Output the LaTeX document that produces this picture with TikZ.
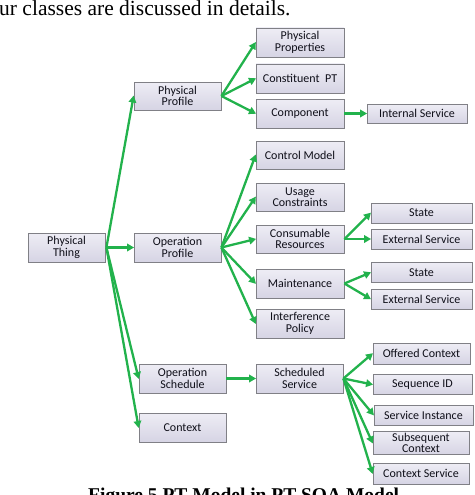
\documentclass[tikz,border=0pt]{standalone}
\usepackage{fontspec}
\setmainfont{Liberation Serif}
\newfontfamily\boxfont{Carlito}
\usetikzlibrary{arrows.meta}
\definecolor{arrgreen}{RGB}{34,178,76}
\definecolor{boxtop}{RGB}{238,237,245}
\definecolor{boxbot}{RGB}{214,212,228}
\definecolor{boxline}{RGB}{128,128,134}
\definecolor{boxtext}{RGB}{15,15,25}
\tikzset{
  box/.style={draw=boxline, line width=0.8pt, top color=boxtop, bottom color=boxbot,
    align=center, inner sep=0.5pt, text=boxtext, font=\boxfont\fontsize{12}{11.6}\selectfont},
  conn/.style={draw=arrgreen, line width=2.3pt,
    -{Triangle[length=7pt,width=7.5pt]}, shorten >=-0.5pt},
}
\newcommand{\bx}[6]{\node[box, minimum width=#4pt, minimum height=#5pt] (#1) at (#2,#3) {#6};}
\begin{document}
\begin{tikzpicture}[x=1pt,y=-1pt]
\useasboundingbox (0,0) rectangle (474,495);
\clip (0,0) rectangle (474,495);
\node[anchor=base west, inner sep=0pt, font=\fontsize{21.5}{21.5}\selectfont] (toptext) at (-1,16) {ur classes are discussed in details.};
\node[anchor=base west, inner sep=0pt, font=\bfseries\fontsize{19.5}{19.5}\selectfont] (caption) at (88,501) {Figure 5 PT Model in PT-SOA Model};

\bx{pthing}{66.5}{247.5}{77}{29}{Physical\\Thing}
\bx{pprof}{177.5}{96}{87}{28}{Physical\\Profile}
\bx{oprof}{177.5}{247.5}{87}{29}{Operation\\Profile}
\bx{osched}{182.5}{378.5}{87}{29}{Operation\\Schedule}
\bx{context}{182.5}{427.5}{87}{29}{Context}

\bx{pprops}{300}{42.5}{88}{29}{Physical\\Properties}
\bx{constpt}{300}{78.5}{88}{29}{Constituent~ PT}
\bx{component}{300}{113.5}{88}{29}{Component}
\bx{intserv}{417}{113.5}{100}{19}{Internal Service}
\bx{ctrl}{300}{155}{88}{28}{Control Model}
\bx{usage}{300}{197}{88}{28}{Usage\\Constraints}
\bx{consum}{300}{239}{88}{28}{Consumable\\Resources}
\bx{stateA}{421.5}{213}{101}{20}{State}
\bx{extA}{421.5}{239}{101}{20}{External Service}
\bx{maint}{300}{283.5}{88}{29}{Maintenance}
\bx{stateB}{421.5}{272.5}{101}{20}{State}
\bx{extB}{421.5}{299}{101}{20}{External Service}
\bx{interf}{300}{323.5}{88}{29}{Interference\\Policy}
\bx{sched}{299.5}{378.5}{87}{29}{Scheduled\\Service}
\bx{offered}{421.5}{353.5}{97}{21}{Offered Context}
\bx{seqid}{422.5}{384.5}{99}{20}{Sequence ID}
\bx{servinst}{423.5}{415}{99}{20}{Service Instance}
\bx{subseq}{421}{443}{96}{23}{Subsequent\\Context}
\bx{ctxserv}{421}{473.5}{96}{21}{Context Service}

\coordinate (ptout) at ([xshift=1pt]pthing.east);
\draw[conn] (ptout) -- (pprof.west);
\draw[conn] (ptout) -- (oprof.west);
\draw[conn] (ptout) -- (osched.west);
\draw[conn] (ptout) -- (context.west);

\draw[conn] (pprof.east) -- (pprops.west);
\draw[conn] (pprof.east) -- (constpt.west);
\draw[conn] (pprof.east) -- (component.west);
\draw[conn] (component.east) -- (intserv.west);

\draw[conn] (oprof.east) -- (ctrl.west);
\draw[conn] (oprof.east) -- (usage.west);
\draw[conn] (oprof.east) -- (consum.west);
\draw[conn] (oprof.east) -- (maint.west);
\draw[conn] (oprof.east) -- (interf.west);

\draw[conn] (consum.east) -- (stateA.west);
\draw[conn] (consum.east) -- (extA.west);
\draw[conn] (maint.east) -- (stateB.west);
\draw[conn] (maint.east) -- (extB.west);

\draw[conn] (osched.east) -- (sched.west);
\draw[conn] (sched.east) -- (offered.west);
\draw[conn] (sched.east) -- (seqid.west);
\draw[conn] (sched.east) -- (servinst.west);
\draw[conn] (sched.east) -- (subseq.west);
\draw[conn] (sched.east) -- (ctxserv.west);
\end{tikzpicture}
\end{document}
